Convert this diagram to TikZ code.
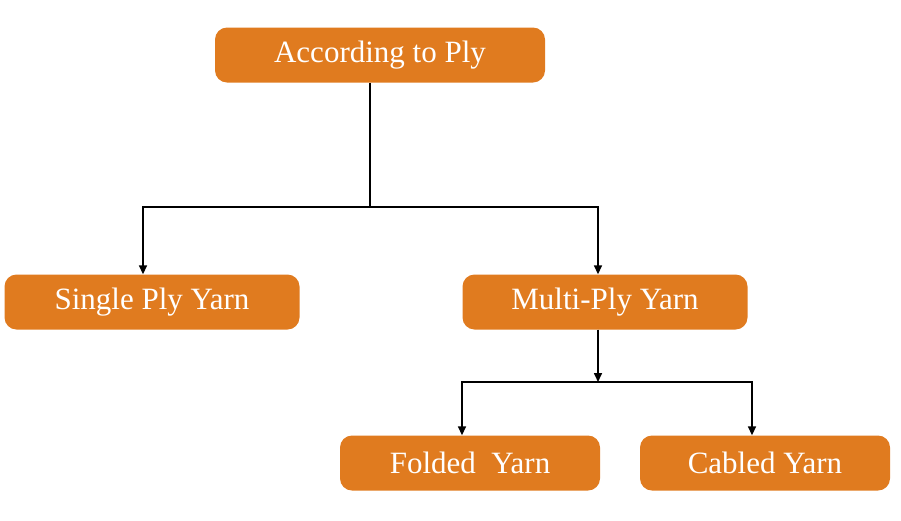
\documentclass[tikz,border=0pt]{standalone}
\usepackage{fontspec}
\setmainfont{Liberation Serif}
\usetikzlibrary{arrows.meta}
\definecolor{orng}{HTML}{E07B1F}
\begin{document}
\begin{tikzpicture}[x=1pt,y=-1pt,
  box/.style={fill=orng,rounded corners=12pt,text=white,font=\fontsize{31}{36}\selectfont,minimum height=55pt,inner xsep=12pt},
  conn/.style={line width=1.6pt,black},
  arr/.style={conn,-{Triangle[length=9pt,width=8pt]}}]
\useasboundingbox (0,0) rectangle (901,520);
\node[box,minimum width=330pt] (a) at (380,55) {According to Ply};
\node[box,minimum width=295pt] (s) at (152,302) {Single Ply Yarn};
\node[box,minimum width=285pt] (m) at (605,302) {Multi-Ply Yarn};
\node[box,minimum width=260pt] (f) at (470,463) {Folded\ \ Yarn};
\node[box,minimum width=250pt] (c) at (765,463) {Cabled Yarn};
\coordinate (j1) at (370,207);
\coordinate (j2) at (598,382);
\draw[conn] (a.south -| j1) -- (j1);
\draw[arr] (j1) -| ([xshift=-9pt]s.north);
\draw[arr] (j1) -| ([xshift=-7pt]m.north);
\draw[arr] ([xshift=-7pt]m.south) -- (j2);
\draw[arr] (j2) -| ([xshift=-8pt]f.north);
\draw[arr] (j2) -| ([xshift=-13pt]c.north);
\end{tikzpicture}
\end{document}
